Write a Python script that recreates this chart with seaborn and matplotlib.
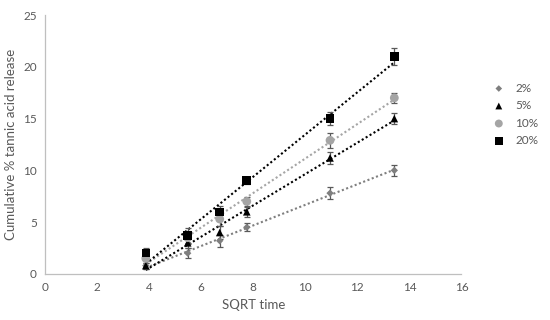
import matplotlib

matplotlib.use("Agg")
import matplotlib.pyplot as plt
import pandas as pd
import seaborn as sns

# sqrt of sampling times
sqrt_time = [3.87, 5.48, 6.71, 7.75, 10.95, 13.42]
groups = ["2%", "5%", "10%", "20%"]
release_2 = [0.8, 2.0, 3.2, 4.5, 7.8, 10.0]
release_5 = [0.8, 3.0, 4.0, 6.0, 11.2, 15.0]
release_10 = [1.5, 3.5, 5.3, 7.0, 12.9, 17.0]
release_20 = [2.0, 3.7, 6.0, 9.0, 15.0, 21.0]
err_2 = [0.3, 0.5, 0.6, 0.4, 0.6, 0.5]
err_5 = [0.3, 0.5, 0.6, 0.5, 0.6, 0.5]
err_10 = [0.3, 0.6, 0.7, 0.4, 0.7, 0.5]
err_20 = [0.5, 0.7, 0.6, 0.3, 0.6, 0.8]

values = {"2%": release_2, "5%": release_5, "10%": release_10, "20%": release_20}
errors = {"2%": err_2, "5%": err_5, "10%": err_10, "20%": err_20}
colors = {"2%": "#7f7f7f", "5%": "#000000", "10%": "#a5a5a5", "20%": "#000000"}
markers = {"2%": "D", "5%": "^", "10%": "o", "20%": "s"}
sizes = {"2%": 14, "5%": 30, "10%": 40, "20%": 38}

rows = []
for g in groups:
    for x, y, e in zip(sqrt_time, values[g], errors[g]):
        rows.append({"time": x, "release": y, "err": e, "group": g})
df = pd.DataFrame(rows)

sns.set_theme(style="white")
plt.rcParams["font.family"] = ["Lato", "DejaVu Sans"]
text_color = "#595959"

fig = plt.figure(figsize=(5.5, 3.2), dpi=100)
ax = fig.add_axes([0.082, 0.144, 0.757, 0.809])

for g in groups:
    sub = df[df["group"] == g]
    sns.regplot(data=sub, x="time", y="release", ax=ax, scatter=False, ci=None,
                color=colors[g], line_kws={"linestyle": (0, (1, 1.2)), "linewidth": 1.5})
    ax.errorbar(sub["time"], sub["release"], yerr=sub["err"], fmt="none",
                ecolor="#595959", elinewidth=0.9, capsize=2.5, capthick=0.9, zorder=3)

for g in groups:
    sub = df[df["group"] == g]
    sns.scatterplot(data=sub, x="time", y="release", ax=ax, marker=markers[g],
                    color=colors[g], s=sizes[g], edgecolor="none", label=g, zorder=4)

ax.set_xlim(0, 16)
ax.set_ylim(0, 25)
ax.set_xticks(range(0, 17, 2))
ax.set_yticks(range(0, 26, 5))
ax.set_xlabel("SQRT time", color=text_color, fontsize=9.5, labelpad=4)
ax.set_ylabel("Cumulative % tannic acid release", color=text_color, fontsize=9.5, labelpad=4)
ax.tick_params(colors=text_color, labelsize=8.5, length=0, pad=6)
for side in ["top", "right"]:
    ax.spines[side].set_visible(False)
for side in ["left", "bottom"]:
    ax.spines[side].set_color("#bfbfbf")
    ax.spines[side].set_linewidth(0.9)

leg = ax.legend(loc="upper left", bbox_to_anchor=(1.05, 0.78), frameon=False,
                fontsize=8.5, labelspacing=0.55, handlelength=1.0, handletextpad=0.9,
                markerscale=0.9)
for t in leg.get_texts():
    t.set_color(text_color)

fig.savefig("out.png", dpi=100)
